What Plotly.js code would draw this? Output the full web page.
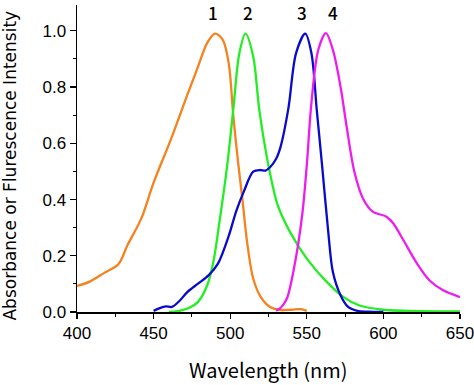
<!DOCTYPE html>
<html>
<head>
<meta charset="utf-8">
<script src="https://cdn.plot.ly/plotly-3.0.1.min.js"></script>
<style>html,body{margin:0;padding:0;background:#fff;}#chart{width:474px;height:385px;}</style>
</head>
<body>
<div id="chart"></div>
<script>
// Curve 1 (orange)
const x1 = [400, 408, 418, 427, 433, 442, 450, 462, 472, 479, 485, 490, 495, 499, 502, 505, 508, 511, 515, 520, 526, 532, 540, 546, 550];
const y1 = [0.093, 0.107, 0.14, 0.17, 0.238, 0.333, 0.46, 0.624, 0.772, 0.873, 0.957, 0.99, 0.97, 0.886, 0.70, 0.54, 0.40, 0.25, 0.119, 0.053, 0.018, 0.008, 0.008, 0.01, 0.004];
// Curve 2 (green)
const x2 = [460, 466, 473, 479, 485, 489, 493, 498, 502, 506, 510, 515, 519, 525, 531, 539, 550, 563, 574, 584, 600, 625, 650];
const y2 = [0, 0.003, 0.014, 0.036, 0.095, 0.178, 0.321, 0.52, 0.72, 0.921, 0.99, 0.909, 0.719, 0.52, 0.38, 0.285, 0.19, 0.107, 0.053, 0.024, 0.008, 0.003, 0.002];
// Curve 3 (blue)
const x3 = [450, 454, 458, 462, 467, 472, 479, 486, 492, 499, 504, 509, 515, 519.5, 523, 526, 530, 533, 538, 543, 549, 553, 556.5, 560, 564, 567, 572, 577, 583, 590, 600];
const y3 = [0.004, 0.014, 0.02, 0.018, 0.04, 0.071, 0.101, 0.131, 0.172, 0.27, 0.36, 0.43, 0.499, 0.505, 0.503, 0.515, 0.545, 0.59, 0.725, 0.921, 0.99, 0.921, 0.719, 0.52, 0.285, 0.143, 0.06, 0.018, 0.004, 0.001, 0];
// Curve 4 (magenta)
const x4 = [530, 533, 537, 542, 547, 550, 553, 557.5, 562.5, 567, 572, 576, 581, 587, 593, 602, 606.5, 613, 622, 630, 639, 650];
const y4 = [0.005, 0.015, 0.048, 0.166, 0.345, 0.523, 0.743, 0.933, 0.992, 0.933, 0.802, 0.66, 0.5, 0.4, 0.357, 0.339, 0.315, 0.256, 0.172, 0.113, 0.077, 0.053];

const peakLabels = ['1', '2', '3', '4'];
const peakLabelX = [488.8, 511.6, 546.7, 567.1];
const peakLabelY = 1.066;

const colors = ['#F5821F', '#22EE22', '#0A0ACC', '#EE1CEE'];
const xs = [x1, x2, x3, x4];
const ys = [y1, y2, y3, y4];

const traces = xs.map((x, i) => ({
  x: x, y: ys[i], type: 'scatter', mode: 'lines',
  line: {color: colors[i], width: 2.3, shape: 'spline', smoothing: 0.9},
  showlegend: false, hoverinfo: 'skip'
}));

const annotations = peakLabels.map((t, i) => ({
  x: peakLabelX[i], y: peakLabelY, xref: 'x', yref: 'y', text: t, showarrow: false,
  font: {family: 'Noto Sans CJK JP', size: 17, color: '#000', weight: 500}, xanchor: 'center', yanchor: 'middle',
  borderpad: 0
}));
annotations.push({
  xref: 'paper', yref: 'paper', x: -0.175, y: 0.477, text: 'Absorbance or Flurescence Intensity',
  textangle: -90, showarrow: false, xanchor: 'center', yanchor: 'middle',
  font: {family: 'DejaVu Sans, sans-serif', size: 17, color: '#000'}
});
annotations.push({
  xref: 'paper', yref: 'paper', x: 0.501, y: -0.187, text: 'Wavelength (nm)',
  showarrow: false, xanchor: 'center', yanchor: 'middle',
  font: {family: 'Noto Sans CJK JP', size: 20, color: '#000'}
});

const layout = {
  width: 474, height: 385,
  margin: {l: 77, r: 14, t: 5, b: 73.3, pad: 0},
  paper_bgcolor: '#fff', plot_bgcolor: '#fff',
  xaxis: {
    range: [400, 650], dtick: 50, tick0: 400, ticks: 'outside', ticklen: 5, tickwidth: 1.2, tickcolor: '#000',
    ticklabeloverflow: 'allow',
    showline: true, linecolor: '#000', linewidth: 1.5, showgrid: false, zeroline: false,
    minor: {dtick: 25, ticks: 'outside', ticklen: 3, tickcolor: '#000', tickwidth: 1},
    tickfont: {family: 'Liberation Sans, Arial, sans-serif', size: 17, color: '#000'}
  },
  yaxis: {
    range: [0, 1.092], dtick: 0.2, tick0: 0, ticks: 'outside', ticklen: 6, tickwidth: 1.2, tickcolor: '#000',
    tickformat: '.1f',
    showline: true, linecolor: '#000', linewidth: 1.5, showgrid: false, zeroline: false,
    minor: {dtick: 0.1, ticks: 'outside', ticklen: 3, tickcolor: '#000', tickwidth: 1},
    tickfont: {family: 'Liberation Sans, Arial, sans-serif', size: 17, color: '#000'}
  },
  annotations: annotations
};

Plotly.newPlot('chart', traces, layout, {staticPlot: true, displayModeBar: false});
</script>
</body>
</html>
